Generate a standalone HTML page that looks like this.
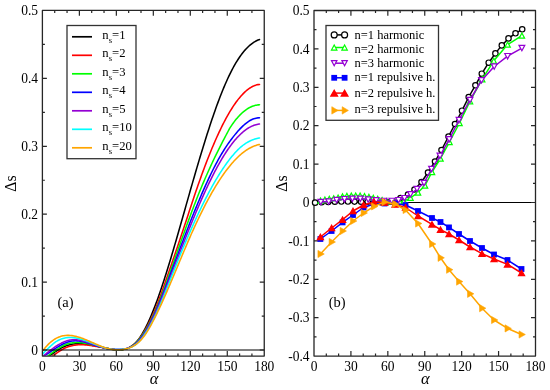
<!DOCTYPE html>
<html><head><meta charset="utf-8"><style>html,body{margin:0;padding:0;background:#fff;}svg{display:block;}</style></head>
<body>
<svg width="550" height="390" viewBox="0 0 550 390">
<rect width="550" height="390" fill="#fff"/>
<defs><clipPath id="cl"><rect x="42.4" y="10.45" width="221.85" height="345.35"/></clipPath><clipPath id="cr"><rect x="314" y="10.5" width="221.5" height="345.6"/></clipPath></defs>
<g clip-path="url(#cl)" fill="none" stroke-width="1.55" stroke-linejoin="round" stroke-linecap="round">
<path d="M43 360.26 44 359.62 45 358.97 46 358.3 47 357.62 48 356.92 49 356.21 50 355.5 51 354.79 52 354.08 53 353.37 54 352.67 55 351.97 56 351.29 57 350.63 58 349.98 59 349.36 60 348.76 61 348.19 62 347.65 63 347.14 64 346.68 65 346.25 66 345.85 67 345.5 68 345.18 69 344.89 70 344.64 71 344.42 72 344.23 73 344.08 74 343.95 75 343.84 76 343.77 77 343.72 78 343.69 79 343.69 80 343.7 81 343.74 82 343.8 83 343.88 84 343.97 85 344.08 86 344.2 87 344.34 88 344.49 89 344.65 90 344.82 91 345 92 345.19 93 345.38 94 345.58 95 345.79 96 346 97 346.21 98 346.43 99 346.64 100 346.86 101 347.08 102 347.3 103 347.51 104 347.73 105 347.93 106 348.14 107 348.34 108 348.53 109 348.71 110 348.89 111 349.06 112 349.21 113 349.35 114 349.48 115 349.59 116 349.67 117 349.74 118 349.78 119 349.79 120 349.77 121 349.71 122 349.63 123 349.5 124 349.34 125 349.14 126 348.88 127 348.58 128 348.21 129 347.78 130 347.28 131 346.71 132 346.05 133 345.3 134 344.46 135 343.52 136 342.47 137 341.33 138 340.09 139 338.75 140 337.32 141 335.8 142 334.19 143 332.49 144 330.71 145 328.84 146 326.89 147 324.86 148 322.76 149 320.58 150 318.32 151 316 152 313.6 153 311.14 154 308.62 155 306.03 156 303.37 157 300.67 158 297.9 159 295.08 160 292.2 161 289.28 162 286.31 163 283.29 164 280.22 165 277.11 166 273.97 167 270.78 168 267.56 169 264.3 170 261.01 171 257.69 172 254.34 173 250.97 174 247.57 175 244.15 176 240.71 177 237.25 178 233.78 179 230.29 180 226.79 181 223.28 182 219.76 183 216.24 184 212.71 185 209.18 186 205.65 187 202.12 188 198.6 189 195.09 190 191.58 191 188.08 192 184.6 193 181.12 194 177.67 195 174.22 196 170.8 197 167.39 198 164 199 160.63 200 157.29 201 153.97 202 150.67 203 147.4 204 144.15 205 140.94 206 137.76 207 134.6 208 131.48 209 128.4 210 125.35 211 122.33 212 119.36 213 116.42 214 113.52 215 110.67 216 107.86 217 105.1 218 102.38 219 99.7 220 97.08 221 94.51 222 91.99 223 89.52 224 87.1 225 84.74 226 82.44 227 80.19 228 78.01 229 75.88 230 73.82 231 71.82 232 69.88 233 68 234 66.18 235 64.42 236 62.73 237 61.09 238 59.51 239 57.99 240 56.54 241 55.14 242 53.79 243 52.51 244 51.29 245 50.12 246 49.01 247 47.96 248 46.96 249 46.02 250 45.14 251 44.32 252 43.54 253 42.83 254 42.17 255 41.57 256 41.02 257 40.52 258 40.08 259 39.69 259.5 39.52" stroke="#000000"/>
<path d="M43 362.09 44 361.57 45 361.02 46 360.43 47 359.82 48 359.17 49 358.51 50 357.83 51 357.13 52 356.42 53 355.71 54 354.99 55 354.28 56 353.57 57 352.86 58 352.18 59 351.51 60 350.86 61 350.23 62 349.64 63 349.07 64 348.55 65 348.06 66 347.61 67 347.2 68 346.83 69 346.49 70 346.18 71 345.91 72 345.67 73 345.45 74 345.27 75 345.12 76 344.99 77 344.89 78 344.81 79 344.76 80 344.73 81 344.72 82 344.73 83 344.76 84 344.81 85 344.88 86 344.96 87 345.05 88 345.16 89 345.28 90 345.41 91 345.55 92 345.7 93 345.86 94 346.02 95 346.19 96 346.37 97 346.55 98 346.74 99 346.93 100 347.12 101 347.31 102 347.5 103 347.69 104 347.89 105 348.08 106 348.26 107 348.45 108 348.62 109 348.8 110 348.97 111 349.13 112 349.28 113 349.41 114 349.53 115 349.64 116 349.72 117 349.78 118 349.81 119 349.81 120 349.77 121 349.7 122 349.6 123 349.45 124 349.25 125 349.01 126 348.71 127 348.37 128 347.96 129 347.5 130 346.98 131 346.39 132 345.73 133 345 134 344.2 135 343.32 136 342.36 137 341.32 138 340.21 139 339.01 140 337.74 141 336.39 142 334.96 143 333.46 144 331.89 145 330.23 146 328.51 147 326.7 148 324.83 149 322.88 150 320.86 151 318.77 152 316.61 153 314.37 154 312.07 155 309.69 156 307.25 157 304.74 158 302.17 159 299.55 160 296.88 161 294.16 162 291.4 163 288.61 164 285.79 165 282.95 166 280.08 167 277.21 168 274.32 169 271.42 170 268.53 171 265.63 172 262.73 173 259.83 174 256.93 175 254.01 176 251.09 177 248.17 178 245.23 179 242.28 180 239.32 181 236.34 182 233.35 183 230.34 184 227.32 185 224.28 186 221.24 187 218.19 188 215.14 189 212.1 190 209.06 191 206.02 192 203 193 200 194 197.01 195 194.05 196 191.12 197 188.21 198 185.33 199 182.48 200 179.66 201 176.87 202 174.11 203 171.39 204 168.69 205 166.03 206 163.4 207 160.8 208 158.24 209 155.71 210 153.22 211 150.76 212 148.33 213 145.95 214 143.6 215 141.29 216 139.02 217 136.78 218 134.59 219 132.43 220 130.31 221 128.24 222 126.2 223 124.21 224 122.26 225 120.35 226 118.49 227 116.66 228 114.89 229 113.15 230 111.47 231 109.82 232 108.23 233 106.68 234 105.18 235 103.72 236 102.32 237 100.96 238 99.65 239 98.39 240 97.19 241 96.03 242 94.92 243 93.87 244 92.87 245 91.92 246 91.02 247 90.18 248 89.39 249 88.66 250 87.98 251 87.36 252 86.8 253 86.29 254 85.84 255 85.45 256 85.11 257 84.84 258 84.62 259 84.47 259.5 84.41" stroke="#ff0000"/>
<path d="M43 359.23 44 358.6 45 357.95 46 357.27 47 356.58 48 355.87 49 355.14 50 354.41 51 353.68 52 352.94 53 352.2 54 351.47 55 350.75 56 350.05 57 349.36 58 348.68 59 348.04 60 347.41 61 346.82 62 346.27 63 345.75 64 345.27 65 344.83 66 344.44 67 344.09 68 343.77 69 343.5 70 343.26 71 343.06 72 342.89 73 342.75 74 342.65 75 342.57 76 342.53 77 342.51 78 342.52 79 342.55 80 342.61 81 342.68 82 342.78 83 342.9 84 343.04 85 343.19 86 343.36 87 343.55 88 343.74 89 343.95 90 344.17 91 344.4 92 344.63 93 344.87 94 345.12 95 345.37 96 345.62 97 345.88 98 346.14 99 346.4 100 346.66 101 346.92 102 347.17 103 347.42 104 347.67 105 347.91 106 348.15 107 348.37 108 348.59 109 348.8 110 348.99 111 349.18 112 349.34 113 349.5 114 349.63 115 349.74 116 349.83 117 349.89 118 349.92 119 349.92 120 349.88 121 349.81 122 349.7 123 349.55 124 349.35 125 349.11 126 348.82 127 348.47 128 348.08 129 347.62 130 347.11 131 346.54 132 345.9 133 345.2 134 344.43 135 343.59 136 342.67 137 341.69 138 340.62 139 339.49 140 338.28 141 336.99 142 335.64 143 334.22 144 332.72 145 331.16 146 329.52 147 327.82 148 326.05 149 324.21 150 322.3 151 320.33 152 318.29 153 316.19 154 314.02 155 311.78 156 309.49 157 307.12 158 304.7 159 302.23 160 299.7 161 297.13 162 294.51 163 291.85 164 289.16 165 286.44 166 283.69 167 280.91 168 278.12 169 275.31 170 272.49 171 269.66 172 266.83 173 263.99 174 261.16 175 258.32 176 255.48 177 252.64 178 249.8 179 246.97 180 244.14 181 241.32 182 238.51 183 235.71 184 232.91 185 230.13 186 227.36 187 224.6 188 221.86 189 219.14 190 216.43 191 213.74 192 211.07 193 208.43 194 205.81 195 203.21 196 200.63 197 198.09 198 195.57 199 193.08 200 190.62 201 188.19 202 185.79 203 183.42 204 181.08 205 178.77 206 176.48 207 174.21 208 171.98 209 169.76 210 167.57 211 165.41 212 163.26 213 161.14 214 159.04 215 156.96 216 154.9 217 152.86 218 150.84 219 148.84 220 146.85 221 144.88 222 142.92 223 140.98 224 139.06 225 137.15 226 135.25 227 133.37 228 131.49 229 129.63 229.3 129.07 229.3 128.89 230.3 127.34 231.3 125.83 232.3 124.38 233.3 122.98 234.3 121.64 235.3 120.34 236.3 119.1 237.3 117.91 238.3 116.78 239.3 115.69 240.3 114.66 241.3 113.68 242.3 112.75 243.3 111.87 244.3 111.05 245.3 110.28 246.3 109.55 247.3 108.88 248.3 108.27 249.3 107.7 250.3 107.18 251.3 106.72 252.3 106.3 253.3 105.94 254.3 105.63 255.3 105.36 256.3 105.15 257.3 104.99 258.3 104.88 259.3 104.82 259.5 104.82" stroke="#00ff00"/>
<path d="M43 356.73 44 356.1 45 355.45 46 354.79 47 354.12 48 353.44 49 352.77 50 352.08 51 351.4 52 350.72 53 350.05 54 349.38 55 348.72 56 348.07 57 347.44 58 346.82 59 346.22 60 345.64 61 345.08 62 344.55 63 344.04 64 343.57 65 343.12 66 342.71 67 342.33 68 342 69 341.7 70 341.44 71 341.23 72 341.07 73 340.95 74 340.88 75 340.84 76 340.85 77 340.89 78 340.96 79 341.07 80 341.21 81 341.37 82 341.56 83 341.78 84 342.01 85 342.26 86 342.53 87 342.82 88 343.11 89 343.42 90 343.73 91 344.05 92 344.37 93 344.7 94 345.02 95 345.33 96 345.65 97 345.95 98 346.25 99 346.53 100 346.81 101 347.08 102 347.34 103 347.58 104 347.82 105 348.04 106 348.25 107 348.45 108 348.63 109 348.8 110 348.96 111 349.1 112 349.22 113 349.33 114 349.43 115 349.5 116 349.56 117 349.6 118 349.62 119 349.62 120 349.59 121 349.53 122 349.44 123 349.32 124 349.15 125 348.95 126 348.71 127 348.41 128 348.07 129 347.68 130 347.23 131 346.72 132 346.15 133 345.52 134 344.82 135 344.05 136 343.21 137 342.29 138 341.3 139 340.23 140 339.08 141 337.86 142 336.56 143 335.18 144 333.72 145 332.18 146 330.57 147 328.89 148 327.13 149 325.3 150 323.41 151 321.45 152 319.43 153 317.35 154 315.21 155 313.01 156 310.76 157 308.46 158 306.11 159 303.71 160 301.27 161 298.8 162 296.28 163 293.74 164 291.16 165 288.57 166 285.95 167 283.31 168 280.65 169 277.99 170 275.31 171 272.63 172 269.95 173 267.27 174 264.59 175 261.92 176 259.24 177 256.57 178 253.91 179 251.25 180 248.6 181 245.95 182 243.31 183 240.68 184 238.06 185 235.45 186 232.85 187 230.26 188 227.69 189 225.13 190 222.58 191 220.05 192 217.54 193 215.04 194 212.56 195 210.09 196 207.65 197 205.22 198 202.82 199 200.44 200 198.08 201 195.74 202 193.42 203 191.13 204 188.87 205 186.63 206 184.41 207 182.23 208 180.07 209 177.94 210 175.84 211 173.77 212 171.73 213 169.73 214 167.75 215 165.82 216 163.91 217 162.04 218 160.2 219 158.41 220 156.65 221 154.92 222 153.24 223 151.59 224 149.99 225 148.42 226 146.88 227 145.39 228 143.93 229 142.5 230 141.11 231 139.75 232 138.42 233 137.12 234 135.86 235 134.62 236 133.42 237 132.24 238 131.09 239 129.98 240 128.89 241 127.85 242 126.85 243 125.89 244 124.97 245 124.1 246 123.28 247 122.52 248 121.8 249 121.14 250 120.53 251 119.98 252 119.49 253 119.06 254 118.69 255 118.38 256 118.14 257 117.97 258 117.87 259 117.84 259.5 117.85" stroke="#0000ff"/>
<path d="M43 356.22 44 355.38 45 354.55 46 353.73 47 352.91 48 352.11 49 351.32 50 350.54 51 349.78 52 349.04 53 348.31 54 347.6 55 346.91 56 346.25 57 345.61 58 344.99 59 344.4 60 343.84 61 343.31 62 342.8 63 342.33 64 341.9 65 341.5 66 341.13 67 340.81 68 340.52 69 340.28 70 340.07 71 339.92 72 339.8 73 339.73 74 339.7 75 339.71 76 339.76 77 339.84 78 339.96 79 340.11 80 340.28 81 340.49 82 340.71 83 340.96 84 341.23 85 341.52 86 341.83 87 342.14 88 342.47 89 342.81 90 343.16 91 343.52 92 343.87 93 344.23 94 344.59 95 344.94 96 345.29 97 345.64 98 345.97 99 346.3 100 346.62 101 346.92 102 347.22 103 347.5 104 347.77 105 348.02 106 348.26 107 348.48 108 348.68 109 348.87 110 349.04 111 349.19 112 349.31 113 349.42 114 349.5 115 349.55 116 349.59 117 349.59 118 349.58 119 349.53 120 349.46 121 349.37 122 349.26 123 349.12 124 348.96 125 348.77 126 348.56 127 348.32 128 348.04 129 347.71 130 347.34 131 346.92 132 346.43 133 345.88 134 345.26 135 344.57 136 343.79 137 342.93 138 341.98 139 340.94 140 339.82 141 338.61 142 337.33 143 335.96 144 334.52 145 333 146 331.4 147 329.73 148 328 149 326.19 150 324.33 151 322.4 152 320.41 153 318.37 154 316.28 155 314.14 156 311.94 157 309.71 158 307.43 159 305.11 160 302.76 161 300.37 162 297.95 163 295.51 164 293.03 165 290.54 166 288.02 167 285.49 168 282.94 169 280.38 170 277.81 171 275.23 172 272.65 173 270.07 174 267.49 175 264.9 176 262.33 177 259.75 178 257.18 179 254.61 180 252.04 181 249.49 182 246.93 183 244.39 184 241.85 185 239.32 186 236.81 187 234.3 188 231.8 189 229.31 190 226.84 191 224.38 192 221.93 193 219.5 194 217.08 195 214.68 196 212.3 197 209.93 198 207.58 199 205.25 200 202.94 201 200.65 202 198.39 203 196.14 204 193.92 205 191.72 206 189.54 207 187.39 208 185.27 209 183.17 210 181.1 211 179.06 212 177.04 213 175.06 214 173.1 215 171.18 216 169.29 217 167.43 218 165.6 219 163.81 220 162.05 221 160.33 222 158.65 223 156.99 224 155.38 225 153.8 226 152.26 227 150.75 228 149.28 229 147.85 230 146.46 231 145.11 232 143.79 233 142.51 234 141.28 235 140.08 236 138.92 237 137.8 238 136.73 239 135.69 240 134.7 241 133.74 242 132.83 243 131.96 244 131.14 245 130.35 246 129.61 247 128.91 248 128.26 249 127.65 250 127.09 251 126.57 252 126.1 253 125.67 254 125.28 255 124.95 256 124.66 257 124.41 258 124.22 259 124.07 259.5 124.01" stroke="#9400d3"/>
<path d="M43 353.59 44 352.58 45 351.56 46 350.55 47 349.54 48 348.55 49 347.58 50 346.63 51 345.71 52 344.82 53 343.97 54 343.17 55 342.42 56 341.72 57 341.08 58 340.51 59 339.99 60 339.53 61 339.13 62 338.77 63 338.46 64 338.2 65 337.99 66 337.81 67 337.67 68 337.58 69 337.52 70 337.5 71 337.51 72 337.56 73 337.63 74 337.74 75 337.88 76 338.04 77 338.23 78 338.44 79 338.68 80 338.94 81 339.22 82 339.51 83 339.82 84 340.15 85 340.49 86 340.85 87 341.21 88 341.58 89 341.97 90 342.35 91 342.75 92 343.14 93 343.54 94 343.94 95 344.34 96 344.73 97 345.12 98 345.5 99 345.88 100 346.24 101 346.6 102 346.94 103 347.27 104 347.58 105 347.87 106 348.15 107 348.4 108 348.63 109 348.84 110 349.02 111 349.18 112 349.31 113 349.41 114 349.49 115 349.55 116 349.58 117 349.58 118 349.57 119 349.53 120 349.46 121 349.38 122 349.28 123 349.16 124 349.01 125 348.85 126 348.66 127 348.44 128 348.19 129 347.9 130 347.56 131 347.17 132 346.73 133 346.22 134 345.65 135 345 136 344.28 137 343.48 138 342.58 139 341.6 140 340.54 141 339.39 142 338.16 143 336.86 144 335.48 145 334.03 146 332.51 147 330.93 148 329.28 149 327.57 150 325.8 151 323.97 152 322.09 153 320.15 154 318.16 155 316.12 156 314.02 157 311.87 158 309.67 159 307.42 160 305.13 161 302.79 162 300.41 163 298 164 295.56 165 293.09 166 290.6 167 288.09 168 285.57 169 283.04 170 280.5 171 277.95 172 275.41 173 272.88 174 270.36 175 267.85 176 265.35 177 262.86 178 260.39 179 257.93 180 255.49 181 253.06 182 250.65 183 248.25 184 245.87 185 243.5 186 241.15 187 238.81 188 236.49 189 234.19 190 231.9 191 229.64 192 227.39 193 225.15 194 222.94 195 220.75 196 218.57 197 216.42 198 214.28 199 212.17 200 210.07 201 208 202 205.95 203 203.92 204 201.91 205 199.93 206 197.97 207 196.03 208 194.12 209 192.23 210 190.36 211 188.53 212 186.71 213 184.92 214 183.16 215 181.43 216 179.72 217 178.04 218 176.39 219 174.76 220 173.16 221 171.6 222 170.06 223 168.55 224 167.06 225 165.61 226 164.19 227 162.8 228 161.44 229 160.12 230 158.82 231 157.56 232 156.33 233 155.13 234 153.96 235 152.83 236 151.74 237 150.68 238 149.66 239 148.69 240 147.76 241 146.88 242 146.04 243 145.25 244 144.51 245 143.81 246 143.16 247 142.55 248 141.98 249 141.45 250 140.96 251 140.51 252 140.09 253 139.71 254 139.36 255 139.05 256 138.77 257 138.52 258 138.29 259 138.1 259.5 138.01" stroke="#00ffff"/>
<path d="M43 350.64 44 349.3 45 348.03 46 346.84 47 345.71 48 344.65 49 343.66 50 342.73 51 341.86 52 341.06 53 340.31 54 339.63 55 339 56 338.42 57 337.91 58 337.44 59 337.02 60 336.66 61 336.34 62 336.07 63 335.85 64 335.67 65 335.53 66 335.43 67 335.37 68 335.35 69 335.37 70 335.42 71 335.51 72 335.62 73 335.77 74 335.95 75 336.15 76 336.38 77 336.63 78 336.91 79 337.21 80 337.53 81 337.86 82 338.22 83 338.59 84 338.97 85 339.37 86 339.78 87 340.2 88 340.62 89 341.06 90 341.49 91 341.94 92 342.38 93 342.83 94 343.27 95 343.71 96 344.15 97 344.58 98 345.01 99 345.43 100 345.83 101 346.23 102 346.61 103 346.98 104 347.33 105 347.66 106 347.98 107 348.27 108 348.54 109 348.79 110 349.02 111 349.21 112 349.38 113 349.52 114 349.64 115 349.73 116 349.79 117 349.82 118 349.83 119 349.8 120 349.75 121 349.68 122 349.57 123 349.44 124 349.28 125 349.09 126 348.88 127 348.62 128 348.33 129 348 130 347.63 131 347.22 132 346.75 133 346.23 134 345.66 135 345.03 136 344.34 137 343.59 138 342.77 139 341.88 140 340.92 141 339.88 142 338.77 143 337.57 144 336.29 145 334.92 146 333.46 147 331.92 148 330.29 149 328.59 150 326.82 151 325.01 152 323.15 153 321.25 154 319.31 155 317.34 156 315.33 157 313.29 158 311.21 159 309.11 160 306.97 161 304.81 162 302.63 163 300.41 164 298.18 165 295.92 166 293.65 167 291.35 168 289.04 169 286.72 170 284.38 171 282.03 172 279.66 173 277.29 174 274.91 175 272.53 176 270.14 177 267.75 178 265.35 179 262.96 180 260.57 181 258.18 182 255.79 183 253.42 184 251.05 185 248.69 186 246.34 187 244 188 241.68 189 239.37 190 237.08 191 234.8 192 232.55 193 230.32 194 228.11 195 225.93 196 223.76 197 221.63 198 219.51 199 217.42 200 215.35 201 213.31 202 211.29 203 209.29 204 207.32 205 205.38 206 203.46 207 201.56 208 199.7 209 197.85 210 196.04 211 194.25 212 192.49 213 190.76 214 189.05 215 187.37 216 185.72 217 184.1 218 182.5 219 180.94 220 179.4 221 177.89 222 176.41 223 174.96 224 173.55 225 172.16 226 170.8 227 169.47 228 168.17 229 166.91 230 165.67 231 164.47 232 163.3 233 162.16 234 161.05 235 159.98 236 158.94 237 157.93 238 156.96 239 156.02 240 155.11 241 154.24 242 153.4 243 152.59 244 151.82 245 151.09 246 150.39 247 149.73 248 149.1 249 148.51 250 147.95 251 147.44 252 146.95 253 146.51 254 146.1 255 145.73 256 145.4 257 145.11 258 144.85 259 144.63 259.5 144.54" stroke="#ffa500"/>
</g>
<path d="M42.4 350.0H264.25M314.0 202.5H535.5" stroke="#000" stroke-width="1.1"/>
<rect x="42.4" y="10.45" width="221.85" height="345.65" fill="none" stroke="#262626" stroke-width="1.3" stroke-linejoin="round"/>
<path d="M54.72 356.1v-2.5M54.72 10.45v2.5M67.05 356.1v-2.5M67.05 10.45v2.5M79.38 356.1v-5.2M79.38 10.45v5.2M91.7 356.1v-2.5M91.7 10.45v2.5M104.03 356.1v-2.5M104.03 10.45v2.5M116.35 356.1v-5.2M116.35 10.45v5.2M128.67 356.1v-2.5M128.67 10.45v2.5M141 356.1v-2.5M141 10.45v2.5M153.32 356.1v-5.2M153.32 10.45v5.2M165.65 356.1v-2.5M165.65 10.45v2.5M177.97 356.1v-2.5M177.97 10.45v2.5M190.3 356.1v-5.2M190.3 10.45v5.2M202.62 356.1v-2.5M202.62 10.45v2.5M214.95 356.1v-2.5M214.95 10.45v2.5M227.28 356.1v-5.2M227.28 10.45v5.2M239.6 356.1v-2.5M239.6 10.45v2.5M251.92 356.1v-2.5M251.92 10.45v2.5M42.4 350h4.5M264.25 350h-4.5M42.4 282.1h4.5M264.25 282.1h-4.5M42.4 214.2h4.5M264.25 214.2h-4.5M42.4 146.3h4.5M264.25 146.3h-4.5M42.4 78.4h4.5M264.25 78.4h-4.5M42.4 316.05h2.5M264.25 316.05h-2.5M42.4 248.15h2.5M264.25 248.15h-2.5M42.4 180.25h2.5M264.25 180.25h-2.5M42.4 112.35h2.5M264.25 112.35h-2.5M42.4 44.45h2.5M264.25 44.45h-2.5" stroke="#262626" stroke-width="1.2" fill="none"/>
<rect x="314" y="10.5" width="221.5" height="345.6" fill="none" stroke="#262626" stroke-width="1.3" stroke-linejoin="round"/>
<path d="M326.31 356.1v-2.5M326.31 10.5v2.5M338.61 356.1v-2.5M338.61 10.5v2.5M350.92 356.1v-5.2M350.92 10.5v5.2M363.22 356.1v-2.5M363.22 10.5v2.5M375.52 356.1v-2.5M375.52 10.5v2.5M387.83 356.1v-5.2M387.83 10.5v5.2M400.13 356.1v-2.5M400.13 10.5v2.5M412.44 356.1v-2.5M412.44 10.5v2.5M424.75 356.1v-5.2M424.75 10.5v5.2M437.05 356.1v-2.5M437.05 10.5v2.5M449.36 356.1v-2.5M449.36 10.5v2.5M461.66 356.1v-5.2M461.66 10.5v5.2M473.97 356.1v-2.5M473.97 10.5v2.5M486.27 356.1v-2.5M486.27 10.5v2.5M498.57 356.1v-5.2M498.57 10.5v5.2M510.88 356.1v-2.5M510.88 10.5v2.5M523.18 356.1v-2.5M523.18 10.5v2.5M314 317.7h4.5M535.5 317.7h-4.5M314 279.3h4.5M535.5 279.3h-4.5M314 240.9h4.5M535.5 240.9h-4.5M314 202.5h4.5M535.5 202.5h-4.5M314 164.1h4.5M535.5 164.1h-4.5M314 125.7h4.5M535.5 125.7h-4.5M314 87.3h4.5M535.5 87.3h-4.5M314 48.9h4.5M535.5 48.9h-4.5M314 336.9h2.5M535.5 336.9h-2.5M314 298.5h2.5M535.5 298.5h-2.5M314 260.1h2.5M535.5 260.1h-2.5M314 221.7h2.5M535.5 221.7h-2.5M314 183.3h2.5M535.5 183.3h-2.5M314 144.9h2.5M535.5 144.9h-2.5M314 106.5h2.5M535.5 106.5h-2.5M314 68.1h2.5M535.5 68.1h-2.5M314 29.7h2.5M535.5 29.7h-2.5" stroke="#262626" stroke-width="1.2" fill="none"/>
<g font-family="'Liberation Serif', 'Times New Roman', serif" fill="#000">
<text transform="translate(38 354.6) scale(0.9 1)" font-size="15.0" text-anchor="end" >0</text>
<text transform="translate(38 286.7) scale(0.9 1)" font-size="15.0" text-anchor="end" >0.1</text>
<text transform="translate(38 218.8) scale(0.9 1)" font-size="15.0" text-anchor="end" >0.2</text>
<text transform="translate(38 150.9) scale(0.9 1)" font-size="15.0" text-anchor="end" >0.3</text>
<text transform="translate(38 83) scale(0.9 1)" font-size="15.0" text-anchor="end" >0.4</text>
<text transform="translate(38 15.1) scale(0.9 1)" font-size="15.0" text-anchor="end" >0.5</text>
<text transform="translate(309.5 360.7) scale(0.9 1)" font-size="15.0" text-anchor="end" >-0.4</text>
<text transform="translate(309.5 322.3) scale(0.9 1)" font-size="15.0" text-anchor="end" >-0.3</text>
<text transform="translate(309.5 283.9) scale(0.9 1)" font-size="15.0" text-anchor="end" >-0.2</text>
<text transform="translate(309.5 245.5) scale(0.9 1)" font-size="15.0" text-anchor="end" >-0.1</text>
<text transform="translate(309.5 207.1) scale(0.9 1)" font-size="15.0" text-anchor="end" >0</text>
<text transform="translate(309.5 168.7) scale(0.9 1)" font-size="15.0" text-anchor="end" >0.1</text>
<text transform="translate(309.5 130.3) scale(0.9 1)" font-size="15.0" text-anchor="end" >0.2</text>
<text transform="translate(309.5 91.9) scale(0.9 1)" font-size="15.0" text-anchor="end" >0.3</text>
<text transform="translate(309.5 53.5) scale(0.9 1)" font-size="15.0" text-anchor="end" >0.4</text>
<text transform="translate(309.5 15.1) scale(0.9 1)" font-size="15.0" text-anchor="end" >0.5</text>
<text transform="translate(42.4 370.8) scale(0.9 1)" font-size="15.0" text-anchor="middle" >0</text>
<text transform="translate(314 370.8) scale(0.9 1)" font-size="15.0" text-anchor="middle" >0</text>
<text transform="translate(79.38 370.8) scale(0.9 1)" font-size="15.0" text-anchor="middle" >30</text>
<text transform="translate(350.92 370.8) scale(0.9 1)" font-size="15.0" text-anchor="middle" >30</text>
<text transform="translate(116.35 370.8) scale(0.9 1)" font-size="15.0" text-anchor="middle" >60</text>
<text transform="translate(387.83 370.8) scale(0.9 1)" font-size="15.0" text-anchor="middle" >60</text>
<text transform="translate(153.32 370.8) scale(0.9 1)" font-size="15.0" text-anchor="middle" >90</text>
<text transform="translate(424.75 370.8) scale(0.9 1)" font-size="15.0" text-anchor="middle" >90</text>
<text transform="translate(190.3 370.8) scale(0.9 1)" font-size="15.0" text-anchor="middle" >120</text>
<text transform="translate(461.66 370.8) scale(0.9 1)" font-size="15.0" text-anchor="middle" >120</text>
<text transform="translate(227.28 370.8) scale(0.9 1)" font-size="15.0" text-anchor="middle" >150</text>
<text transform="translate(498.57 370.8) scale(0.9 1)" font-size="15.0" text-anchor="middle" >150</text>
<text transform="translate(264.25 370.8) scale(0.9 1)" font-size="15.0" text-anchor="middle" >180</text>
<text transform="translate(535.49 370.8) scale(0.9 1)" font-size="15.0" text-anchor="middle" >180</text>
<text x="154" y="383.6" font-size="16.5" text-anchor="middle" font-style="italic">α</text>
<text x="425.4" y="383.6" font-size="16.5" text-anchor="middle" font-style="italic">α</text>
<text transform="translate(16.2,183.5) rotate(-90)" font-size="15.8" text-anchor="middle">Δs</text>
<text transform="translate(287.2,183.5) rotate(-90)" font-size="15.8" text-anchor="middle">Δs</text>
<text x="65.5" y="306.9" font-size="14.5" text-anchor="middle" >(a)</text>
<text x="337.2" y="306.9" font-size="14.5" text-anchor="middle" >(b)</text>
</g>
<rect x="67" y="25.5" width="69" height="133.2" fill="#fff" stroke="#333" stroke-width="1.3"/>
<path d="M72 36.8H92" stroke="#000000" stroke-width="1.7"/>
<text transform="translate(102.3 38.7) scale(0.96 1)" font-family="'Liberation Serif', 'Times New Roman', serif" font-size="13.2">n<tspan font-size="9" dy="4.2">s</tspan><tspan dy="-4.2">=1</tspan></text>
<path d="M72 55.3H92" stroke="#ff0000" stroke-width="1.7"/>
<text transform="translate(102.3 57.2) scale(0.96 1)" font-family="'Liberation Serif', 'Times New Roman', serif" font-size="13.2">n<tspan font-size="9" dy="4.2">s</tspan><tspan dy="-4.2">=2</tspan></text>
<path d="M72 73.8H92" stroke="#00ff00" stroke-width="1.7"/>
<text transform="translate(102.3 75.7) scale(0.96 1)" font-family="'Liberation Serif', 'Times New Roman', serif" font-size="13.2">n<tspan font-size="9" dy="4.2">s</tspan><tspan dy="-4.2">=3</tspan></text>
<path d="M72 92.3H92" stroke="#0000ff" stroke-width="1.7"/>
<text transform="translate(102.3 94.2) scale(0.96 1)" font-family="'Liberation Serif', 'Times New Roman', serif" font-size="13.2">n<tspan font-size="9" dy="4.2">s</tspan><tspan dy="-4.2">=4</tspan></text>
<path d="M72 110.8H92" stroke="#9400d3" stroke-width="1.7"/>
<text transform="translate(102.3 112.7) scale(0.96 1)" font-family="'Liberation Serif', 'Times New Roman', serif" font-size="13.2">n<tspan font-size="9" dy="4.2">s</tspan><tspan dy="-4.2">=5</tspan></text>
<path d="M72 129.3H92" stroke="#00ffff" stroke-width="1.7"/>
<text transform="translate(102.3 131.2) scale(0.96 1)" font-family="'Liberation Serif', 'Times New Roman', serif" font-size="13.2">n<tspan font-size="9" dy="4.2">s</tspan><tspan dy="-4.2">=10</tspan></text>
<path d="M72 147.8H92" stroke="#ffa500" stroke-width="1.7"/>
<text transform="translate(102.3 149.7) scale(0.96 1)" font-family="'Liberation Serif', 'Times New Roman', serif" font-size="13.2">n<tspan font-size="9" dy="4.2">s</tspan><tspan dy="-4.2">=20</tspan></text>
<g>
<path d="M315.1 202.63 321.67 202.31 328.24 202.04 334.81 201.77 341.38 201.57 347.95 201.54 354.52 201.58 361.08 201.63 367.65 201.71 374.22 201.86 380.79 202.14 387.36 202.31 393.93 202.29 400.5 198 408 194.5 414.5 189.5 421.5 182 428 172.5 435 161.5 441.5 150 448.5 136.5 455 124 462 110.7 468.7 97 475.4 85.3 481.8 73.7 488.7 62.7 495.4 53.4 501.8 45.4 508.5 38.4 515.5 33.3 522.2 29.3" fill="none" stroke="#000000" stroke-width="1.5" stroke-linejoin="round"/>
<circle cx="315.1" cy="202.63" r="2.7" fill="#fff" stroke="#000" stroke-width="1.2"/>
<circle cx="321.67" cy="202.31" r="2.7" fill="#fff" stroke="#000" stroke-width="1.2"/>
<circle cx="328.24" cy="202.04" r="2.7" fill="#fff" stroke="#000" stroke-width="1.2"/>
<circle cx="334.81" cy="201.77" r="2.7" fill="#fff" stroke="#000" stroke-width="1.2"/>
<circle cx="341.38" cy="201.57" r="2.7" fill="#fff" stroke="#000" stroke-width="1.2"/>
<circle cx="347.95" cy="201.54" r="2.7" fill="#fff" stroke="#000" stroke-width="1.2"/>
<circle cx="354.52" cy="201.58" r="2.7" fill="#fff" stroke="#000" stroke-width="1.2"/>
<circle cx="361.08" cy="201.63" r="2.7" fill="#fff" stroke="#000" stroke-width="1.2"/>
<circle cx="367.65" cy="201.71" r="2.7" fill="#fff" stroke="#000" stroke-width="1.2"/>
<circle cx="374.22" cy="201.86" r="2.7" fill="#fff" stroke="#000" stroke-width="1.2"/>
<circle cx="380.79" cy="202.14" r="2.7" fill="#fff" stroke="#000" stroke-width="1.2"/>
<circle cx="387.36" cy="202.31" r="2.7" fill="#fff" stroke="#000" stroke-width="1.2"/>
<circle cx="393.93" cy="202.29" r="2.7" fill="#fff" stroke="#000" stroke-width="1.2"/>
<circle cx="400.5" cy="198" r="2.7" fill="#fff" stroke="#000" stroke-width="1.2"/>
<circle cx="408" cy="194.5" r="2.7" fill="#fff" stroke="#000" stroke-width="1.2"/>
<circle cx="414.5" cy="189.5" r="2.7" fill="#fff" stroke="#000" stroke-width="1.2"/>
<circle cx="421.5" cy="182" r="2.7" fill="#fff" stroke="#000" stroke-width="1.2"/>
<circle cx="428" cy="172.5" r="2.7" fill="#fff" stroke="#000" stroke-width="1.2"/>
<circle cx="435" cy="161.5" r="2.7" fill="#fff" stroke="#000" stroke-width="1.2"/>
<circle cx="441.5" cy="150" r="2.7" fill="#fff" stroke="#000" stroke-width="1.2"/>
<circle cx="448.5" cy="136.5" r="2.7" fill="#fff" stroke="#000" stroke-width="1.2"/>
<circle cx="455" cy="124" r="2.7" fill="#fff" stroke="#000" stroke-width="1.2"/>
<circle cx="462" cy="110.7" r="2.7" fill="#fff" stroke="#000" stroke-width="1.2"/>
<circle cx="468.7" cy="97" r="2.7" fill="#fff" stroke="#000" stroke-width="1.2"/>
<circle cx="475.4" cy="85.3" r="2.7" fill="#fff" stroke="#000" stroke-width="1.2"/>
<circle cx="481.8" cy="73.7" r="2.7" fill="#fff" stroke="#000" stroke-width="1.2"/>
<circle cx="488.7" cy="62.7" r="2.7" fill="#fff" stroke="#000" stroke-width="1.2"/>
<circle cx="495.4" cy="53.4" r="2.7" fill="#fff" stroke="#000" stroke-width="1.2"/>
<circle cx="501.8" cy="45.4" r="2.7" fill="#fff" stroke="#000" stroke-width="1.2"/>
<circle cx="508.5" cy="38.4" r="2.7" fill="#fff" stroke="#000" stroke-width="1.2"/>
<circle cx="515.5" cy="33.3" r="2.7" fill="#fff" stroke="#000" stroke-width="1.2"/>
<circle cx="522.2" cy="29.3" r="2.7" fill="#fff" stroke="#000" stroke-width="1.2"/>
<path d="M320.5 200.61 324.9 199.58 329.3 198.83 333.7 198.34 338.1 197.56 342.5 196.51 346.9 195.99 351.3 195.62 355.7 195.59 360.1 195.63 364.5 196.2 368.9 196.9 373.3 197.81 377.7 198.92 382.1 200.04 386.5 201.19 390.9 201.76 395.3 201.9 399.7 201.83 404.1 201.16 410.5 197.8 418 192.5 425 185.5 432 172 440.5 158.5 449.5 142 459.5 123 470 101.2 482.2 79.2 493.8 60.8 507.6 44.6 521.9 35.6" fill="none" stroke="#00ff00" stroke-width="1.5" stroke-linejoin="round"/>
<path d="M317.8 203.21L320.5 198.01L323.2 203.21Z" fill="#fff" stroke="#00ff00" stroke-width="1.2" stroke-linejoin="miter"/>
<path d="M322.2 202.18L324.9 196.98L327.6 202.18Z" fill="#fff" stroke="#00ff00" stroke-width="1.2" stroke-linejoin="miter"/>
<path d="M326.6 201.43L329.3 196.23L332 201.43Z" fill="#fff" stroke="#00ff00" stroke-width="1.2" stroke-linejoin="miter"/>
<path d="M331 200.94L333.7 195.74L336.4 200.94Z" fill="#fff" stroke="#00ff00" stroke-width="1.2" stroke-linejoin="miter"/>
<path d="M335.4 200.16L338.1 194.96L340.8 200.16Z" fill="#fff" stroke="#00ff00" stroke-width="1.2" stroke-linejoin="miter"/>
<path d="M339.8 199.11L342.5 193.91L345.2 199.11Z" fill="#fff" stroke="#00ff00" stroke-width="1.2" stroke-linejoin="miter"/>
<path d="M344.2 198.59L346.9 193.39L349.6 198.59Z" fill="#fff" stroke="#00ff00" stroke-width="1.2" stroke-linejoin="miter"/>
<path d="M348.6 198.22L351.3 193.02L354 198.22Z" fill="#fff" stroke="#00ff00" stroke-width="1.2" stroke-linejoin="miter"/>
<path d="M353 198.19L355.7 192.99L358.4 198.19Z" fill="#fff" stroke="#00ff00" stroke-width="1.2" stroke-linejoin="miter"/>
<path d="M357.4 198.23L360.1 193.03L362.8 198.23Z" fill="#fff" stroke="#00ff00" stroke-width="1.2" stroke-linejoin="miter"/>
<path d="M361.8 198.8L364.5 193.6L367.2 198.8Z" fill="#fff" stroke="#00ff00" stroke-width="1.2" stroke-linejoin="miter"/>
<path d="M366.2 199.5L368.9 194.3L371.6 199.5Z" fill="#fff" stroke="#00ff00" stroke-width="1.2" stroke-linejoin="miter"/>
<path d="M370.6 200.41L373.3 195.21L376 200.41Z" fill="#fff" stroke="#00ff00" stroke-width="1.2" stroke-linejoin="miter"/>
<path d="M375 201.52L377.7 196.32L380.4 201.52Z" fill="#fff" stroke="#00ff00" stroke-width="1.2" stroke-linejoin="miter"/>
<path d="M379.4 202.64L382.1 197.44L384.8 202.64Z" fill="#fff" stroke="#00ff00" stroke-width="1.2" stroke-linejoin="miter"/>
<path d="M383.8 203.79L386.5 198.59L389.2 203.79Z" fill="#fff" stroke="#00ff00" stroke-width="1.2" stroke-linejoin="miter"/>
<path d="M388.2 204.36L390.9 199.16L393.6 204.36Z" fill="#fff" stroke="#00ff00" stroke-width="1.2" stroke-linejoin="miter"/>
<path d="M392.6 204.5L395.3 199.3L398 204.5Z" fill="#fff" stroke="#00ff00" stroke-width="1.2" stroke-linejoin="miter"/>
<path d="M397 204.43L399.7 199.23L402.4 204.43Z" fill="#fff" stroke="#00ff00" stroke-width="1.2" stroke-linejoin="miter"/>
<path d="M401.4 203.76L404.1 198.56L406.8 203.76Z" fill="#fff" stroke="#00ff00" stroke-width="1.2" stroke-linejoin="miter"/>
<path d="M407.8 200.4L410.5 195.2L413.2 200.4Z" fill="#fff" stroke="#00ff00" stroke-width="1.2" stroke-linejoin="miter"/>
<path d="M415.3 195.1L418 189.9L420.7 195.1Z" fill="#fff" stroke="#00ff00" stroke-width="1.2" stroke-linejoin="miter"/>
<path d="M422.3 188.1L425 182.9L427.7 188.1Z" fill="#fff" stroke="#00ff00" stroke-width="1.2" stroke-linejoin="miter"/>
<path d="M429.3 174.6L432 169.4L434.7 174.6Z" fill="#fff" stroke="#00ff00" stroke-width="1.2" stroke-linejoin="miter"/>
<path d="M437.8 161.1L440.5 155.9L443.2 161.1Z" fill="#fff" stroke="#00ff00" stroke-width="1.2" stroke-linejoin="miter"/>
<path d="M446.8 144.6L449.5 139.4L452.2 144.6Z" fill="#fff" stroke="#00ff00" stroke-width="1.2" stroke-linejoin="miter"/>
<path d="M456.8 125.6L459.5 120.4L462.2 125.6Z" fill="#fff" stroke="#00ff00" stroke-width="1.2" stroke-linejoin="miter"/>
<path d="M467.3 103.8L470 98.6L472.7 103.8Z" fill="#fff" stroke="#00ff00" stroke-width="1.2" stroke-linejoin="miter"/>
<path d="M479.5 81.8L482.2 76.6L484.9 81.8Z" fill="#fff" stroke="#00ff00" stroke-width="1.2" stroke-linejoin="miter"/>
<path d="M491.1 63.4L493.8 58.2L496.5 63.4Z" fill="#fff" stroke="#00ff00" stroke-width="1.2" stroke-linejoin="miter"/>
<path d="M504.9 47.2L507.6 42L510.3 47.2Z" fill="#fff" stroke="#00ff00" stroke-width="1.2" stroke-linejoin="miter"/>
<path d="M519.2 38.2L521.9 33L524.6 38.2Z" fill="#fff" stroke="#00ff00" stroke-width="1.2" stroke-linejoin="miter"/>
<path d="M320.8 202 328.7 201.62 336.6 200.03 344.5 199.2 352.4 198.81 360.3 198.81 368.2 199.6 376.1 200.38 384 200.96 391.9 200.96 398.5 200.2 404.5 198.2 410.5 194.3 417 189 424 183 431.5 169 440 155.9 449.2 139.4 459 120 470 100 481.5 80.4 494.2 66.5 507.6 56.2 521.9 48.1" fill="none" stroke="#9400d3" stroke-width="1.5" stroke-linejoin="round"/>
<path d="M317.9 199.3L320.8 204.7L323.7 199.3Z" fill="#fff" stroke="#9400d3" stroke-width="1.2"/>
<path d="M325.8 198.92L328.7 204.32L331.6 198.92Z" fill="#fff" stroke="#9400d3" stroke-width="1.2"/>
<path d="M333.7 197.33L336.6 202.73L339.5 197.33Z" fill="#fff" stroke="#9400d3" stroke-width="1.2"/>
<path d="M341.6 196.5L344.5 201.9L347.4 196.5Z" fill="#fff" stroke="#9400d3" stroke-width="1.2"/>
<path d="M349.5 196.11L352.4 201.51L355.3 196.11Z" fill="#fff" stroke="#9400d3" stroke-width="1.2"/>
<path d="M357.4 196.11L360.3 201.51L363.2 196.11Z" fill="#fff" stroke="#9400d3" stroke-width="1.2"/>
<path d="M365.3 196.9L368.2 202.3L371.1 196.9Z" fill="#fff" stroke="#9400d3" stroke-width="1.2"/>
<path d="M373.2 197.68L376.1 203.08L379 197.68Z" fill="#fff" stroke="#9400d3" stroke-width="1.2"/>
<path d="M381.1 198.26L384 203.66L386.9 198.26Z" fill="#fff" stroke="#9400d3" stroke-width="1.2"/>
<path d="M389 198.26L391.9 203.66L394.8 198.26Z" fill="#fff" stroke="#9400d3" stroke-width="1.2"/>
<path d="M395.6 197.5L398.5 202.9L401.4 197.5Z" fill="#fff" stroke="#9400d3" stroke-width="1.2"/>
<path d="M401.6 195.5L404.5 200.9L407.4 195.5Z" fill="#fff" stroke="#9400d3" stroke-width="1.2"/>
<path d="M407.6 191.6L410.5 197L413.4 191.6Z" fill="#fff" stroke="#9400d3" stroke-width="1.2"/>
<path d="M414.1 186.3L417 191.7L419.9 186.3Z" fill="#fff" stroke="#9400d3" stroke-width="1.2"/>
<path d="M421.1 180.3L424 185.7L426.9 180.3Z" fill="#fff" stroke="#9400d3" stroke-width="1.2"/>
<path d="M428.6 166.3L431.5 171.7L434.4 166.3Z" fill="#fff" stroke="#9400d3" stroke-width="1.2"/>
<path d="M437.1 153.2L440 158.6L442.9 153.2Z" fill="#fff" stroke="#9400d3" stroke-width="1.2"/>
<path d="M446.3 136.7L449.2 142.1L452.1 136.7Z" fill="#fff" stroke="#9400d3" stroke-width="1.2"/>
<path d="M456.1 117.3L459 122.7L461.9 117.3Z" fill="#fff" stroke="#9400d3" stroke-width="1.2"/>
<path d="M467.1 97.3L470 102.7L472.9 97.3Z" fill="#fff" stroke="#9400d3" stroke-width="1.2"/>
<path d="M478.6 77.7L481.5 83.1L484.4 77.7Z" fill="#fff" stroke="#9400d3" stroke-width="1.2"/>
<path d="M491.3 63.8L494.2 69.2L497.1 63.8Z" fill="#fff" stroke="#9400d3" stroke-width="1.2"/>
<path d="M504.7 53.5L507.6 58.9L510.5 53.5Z" fill="#fff" stroke="#9400d3" stroke-width="1.2"/>
<path d="M519 45.4L521.9 50.8L524.8 45.4Z" fill="#fff" stroke="#9400d3" stroke-width="1.2"/>
<path d="M320.4 239 331.6 231 342.6 222.4 353 215 363.6 207.5 374 204 384.5 203.5 395 203.5 405.5 205 418 211 432 218 440.5 222 449 227.4 459 234 470 241 482 248 494 254.5 507.5 260 521.5 269" fill="none" stroke="#0000ff" stroke-width="1.5" stroke-linejoin="round"/>
<rect x="317.5" y="236.1" width="5.8" height="5.8" fill="#0000ff"/>
<rect x="328.7" y="228.1" width="5.8" height="5.8" fill="#0000ff"/>
<rect x="339.7" y="219.5" width="5.8" height="5.8" fill="#0000ff"/>
<rect x="350.1" y="212.1" width="5.8" height="5.8" fill="#0000ff"/>
<rect x="360.7" y="204.6" width="5.8" height="5.8" fill="#0000ff"/>
<rect x="371.1" y="201.1" width="5.8" height="5.8" fill="#0000ff"/>
<rect x="381.6" y="200.6" width="5.8" height="5.8" fill="#0000ff"/>
<rect x="392.1" y="200.6" width="5.8" height="5.8" fill="#0000ff"/>
<rect x="402.6" y="202.1" width="5.8" height="5.8" fill="#0000ff"/>
<rect x="415.1" y="208.1" width="5.8" height="5.8" fill="#0000ff"/>
<rect x="429.1" y="215.1" width="5.8" height="5.8" fill="#0000ff"/>
<rect x="437.6" y="219.1" width="5.8" height="5.8" fill="#0000ff"/>
<rect x="446.1" y="224.5" width="5.8" height="5.8" fill="#0000ff"/>
<rect x="456.1" y="231.1" width="5.8" height="5.8" fill="#0000ff"/>
<rect x="467.1" y="238.1" width="5.8" height="5.8" fill="#0000ff"/>
<rect x="479.1" y="245.1" width="5.8" height="5.8" fill="#0000ff"/>
<rect x="491.1" y="251.6" width="5.8" height="5.8" fill="#0000ff"/>
<rect x="504.6" y="257.1" width="5.8" height="5.8" fill="#0000ff"/>
<rect x="518.6" y="266.1" width="5.8" height="5.8" fill="#0000ff"/>
<path d="M320.4 237 331.6 228 342.6 219.6 353 211 363.6 205 374 202 384.5 202.5 395 204.5 405.5 207.5 418 216 432 224.4 440.5 229.6 449 234 459 240 470 247 482 253.6 494 259 507.5 264.4 521.5 273" fill="none" stroke="#ff0000" stroke-width="1.5" stroke-linejoin="round"/>
<path d="M317.3 239.7L320.4 234.3L323.5 239.7Z" fill="#ff0000" stroke="#ff0000" stroke-width="1.2" stroke-linejoin="miter"/>
<path d="M328.5 230.7L331.6 225.3L334.7 230.7Z" fill="#ff0000" stroke="#ff0000" stroke-width="1.2" stroke-linejoin="miter"/>
<path d="M339.5 222.3L342.6 216.9L345.7 222.3Z" fill="#ff0000" stroke="#ff0000" stroke-width="1.2" stroke-linejoin="miter"/>
<path d="M349.9 213.7L353 208.3L356.1 213.7Z" fill="#ff0000" stroke="#ff0000" stroke-width="1.2" stroke-linejoin="miter"/>
<path d="M360.5 207.7L363.6 202.3L366.7 207.7Z" fill="#ff0000" stroke="#ff0000" stroke-width="1.2" stroke-linejoin="miter"/>
<path d="M370.9 204.7L374 199.3L377.1 204.7Z" fill="#ff0000" stroke="#ff0000" stroke-width="1.2" stroke-linejoin="miter"/>
<path d="M381.4 205.2L384.5 199.8L387.6 205.2Z" fill="#ff0000" stroke="#ff0000" stroke-width="1.2" stroke-linejoin="miter"/>
<path d="M391.9 207.2L395 201.8L398.1 207.2Z" fill="#ff0000" stroke="#ff0000" stroke-width="1.2" stroke-linejoin="miter"/>
<path d="M402.4 210.2L405.5 204.8L408.6 210.2Z" fill="#ff0000" stroke="#ff0000" stroke-width="1.2" stroke-linejoin="miter"/>
<path d="M414.9 218.7L418 213.3L421.1 218.7Z" fill="#ff0000" stroke="#ff0000" stroke-width="1.2" stroke-linejoin="miter"/>
<path d="M428.9 227.1L432 221.7L435.1 227.1Z" fill="#ff0000" stroke="#ff0000" stroke-width="1.2" stroke-linejoin="miter"/>
<path d="M437.4 232.3L440.5 226.9L443.6 232.3Z" fill="#ff0000" stroke="#ff0000" stroke-width="1.2" stroke-linejoin="miter"/>
<path d="M445.9 236.7L449 231.3L452.1 236.7Z" fill="#ff0000" stroke="#ff0000" stroke-width="1.2" stroke-linejoin="miter"/>
<path d="M455.9 242.7L459 237.3L462.1 242.7Z" fill="#ff0000" stroke="#ff0000" stroke-width="1.2" stroke-linejoin="miter"/>
<path d="M466.9 249.7L470 244.3L473.1 249.7Z" fill="#ff0000" stroke="#ff0000" stroke-width="1.2" stroke-linejoin="miter"/>
<path d="M478.9 256.3L482 250.9L485.1 256.3Z" fill="#ff0000" stroke="#ff0000" stroke-width="1.2" stroke-linejoin="miter"/>
<path d="M490.9 261.7L494 256.3L497.1 261.7Z" fill="#ff0000" stroke="#ff0000" stroke-width="1.2" stroke-linejoin="miter"/>
<path d="M504.4 267.1L507.5 261.7L510.6 267.1Z" fill="#ff0000" stroke="#ff0000" stroke-width="1.2" stroke-linejoin="miter"/>
<path d="M518.4 275.7L521.5 270.3L524.6 275.7Z" fill="#ff0000" stroke="#ff0000" stroke-width="1.2" stroke-linejoin="miter"/>
<path d="M320.4 254 331.6 242 342.6 231 353 221 363.6 213 374 206.4 384.5 202 395 204 405.5 210 418 223.5 432 244 440.5 257.8 449 269.7 459 281.6 470 293.8 482 308.2 494 320 507.5 328.4 521.5 334.5" fill="none" stroke="#ffa500" stroke-width="1.5" stroke-linejoin="round"/>
<path d="M317.95 250.4L324.25 254L317.95 257.6Z" fill="#ffa500" stroke="#ffa500" stroke-width="0.6"/>
<path d="M329.15 238.4L335.45 242L329.15 245.6Z" fill="#ffa500" stroke="#ffa500" stroke-width="0.6"/>
<path d="M340.15 227.4L346.45 231L340.15 234.6Z" fill="#ffa500" stroke="#ffa500" stroke-width="0.6"/>
<path d="M350.55 217.4L356.85 221L350.55 224.6Z" fill="#ffa500" stroke="#ffa500" stroke-width="0.6"/>
<path d="M361.15 209.4L367.45 213L361.15 216.6Z" fill="#ffa500" stroke="#ffa500" stroke-width="0.6"/>
<path d="M371.55 202.8L377.85 206.4L371.55 210Z" fill="#ffa500" stroke="#ffa500" stroke-width="0.6"/>
<path d="M382.05 198.4L388.35 202L382.05 205.6Z" fill="#ffa500" stroke="#ffa500" stroke-width="0.6"/>
<path d="M392.55 200.4L398.85 204L392.55 207.6Z" fill="#ffa500" stroke="#ffa500" stroke-width="0.6"/>
<path d="M403.05 206.4L409.35 210L403.05 213.6Z" fill="#ffa500" stroke="#ffa500" stroke-width="0.6"/>
<path d="M415.55 219.9L421.85 223.5L415.55 227.1Z" fill="#ffa500" stroke="#ffa500" stroke-width="0.6"/>
<path d="M429.55 240.4L435.85 244L429.55 247.6Z" fill="#ffa500" stroke="#ffa500" stroke-width="0.6"/>
<path d="M438.05 254.2L444.35 257.8L438.05 261.4Z" fill="#ffa500" stroke="#ffa500" stroke-width="0.6"/>
<path d="M446.55 266.1L452.85 269.7L446.55 273.3Z" fill="#ffa500" stroke="#ffa500" stroke-width="0.6"/>
<path d="M456.55 278L462.85 281.6L456.55 285.2Z" fill="#ffa500" stroke="#ffa500" stroke-width="0.6"/>
<path d="M467.55 290.2L473.85 293.8L467.55 297.4Z" fill="#ffa500" stroke="#ffa500" stroke-width="0.6"/>
<path d="M479.55 304.6L485.85 308.2L479.55 311.8Z" fill="#ffa500" stroke="#ffa500" stroke-width="0.6"/>
<path d="M491.55 316.4L497.85 320L491.55 323.6Z" fill="#ffa500" stroke="#ffa500" stroke-width="0.6"/>
<path d="M505.05 324.8L511.35 328.4L505.05 332Z" fill="#ffa500" stroke="#ffa500" stroke-width="0.6"/>
<path d="M519.05 330.9L525.35 334.5L519.05 338.1Z" fill="#ffa500" stroke="#ffa500" stroke-width="0.6"/>
</g>
<rect x="326" y="25.5" width="112.5" height="94.8" fill="#fff" stroke="#333" stroke-width="1.3"/>
<path d="M334.2 34.9H344.6" stroke="#000000" stroke-width="1.5"/>
<circle cx="334.2" cy="34.9" r="3.0" fill="#fff" stroke="#000" stroke-width="1.2"/>
<circle cx="344.6" cy="34.9" r="3.0" fill="#fff" stroke="#000" stroke-width="1.2"/>
<text transform="translate(354.5 38.8) scale(0.97 1)" font-family="'Liberation Serif', 'Times New Roman', serif" font-size="12.9">n=1 harmonic</text>
<path d="M334.2 47.5H344.6" stroke="#00ff00" stroke-width="1.5"/>
<path d="M331.5 50.05L334.2 44.95L336.9 50.05Z" fill="#fff" stroke="#00ff00" stroke-width="1.2" stroke-linejoin="miter"/>
<path d="M341.9 50.05L344.6 44.95L347.3 50.05Z" fill="#fff" stroke="#00ff00" stroke-width="1.2" stroke-linejoin="miter"/>
<text transform="translate(354.5 52.5) scale(0.97 1)" font-family="'Liberation Serif', 'Times New Roman', serif" font-size="12.9">n=2 harmonic</text>
<path d="M334.2 63.2H344.6" stroke="#9400d3" stroke-width="1.5"/>
<path d="M331.5 60.65L334.2 65.75L336.9 60.65Z" fill="#fff" stroke="#9400d3" stroke-width="1.2"/>
<path d="M341.9 60.65L344.6 65.75L347.3 60.65Z" fill="#fff" stroke="#9400d3" stroke-width="1.2"/>
<text transform="translate(354.5 66.5) scale(0.97 1)" font-family="'Liberation Serif', 'Times New Roman', serif" font-size="12.9">n=3 harmonic</text>
<path d="M334.2 77.8H344.6" stroke="#0000ff" stroke-width="1.5"/>
<rect x="331.3" y="74.9" width="5.8" height="5.8" fill="#0000ff"/>
<rect x="341.7" y="74.9" width="5.8" height="5.8" fill="#0000ff"/>
<text transform="translate(354.5 80.5) scale(0.97 1)" font-family="'Liberation Serif', 'Times New Roman', serif" font-size="12.9">n=1 repulsive h.</text>
<path d="M334.2 93.1H344.6" stroke="#ff0000" stroke-width="1.5"/>
<path d="M330.8 96.1L334.2 90.1L337.6 96.1Z" fill="#ff0000" stroke="#ff0000" stroke-width="1.2" stroke-linejoin="miter"/>
<path d="M341.2 96.1L344.6 90.1L348 96.1Z" fill="#ff0000" stroke="#ff0000" stroke-width="1.2" stroke-linejoin="miter"/>
<text transform="translate(354.5 96.7) scale(0.97 1)" font-family="'Liberation Serif', 'Times New Roman', serif" font-size="12.9">n=2 repulsive h.</text>
<path d="M334.2 110.4H344.6" stroke="#ffa500" stroke-width="1.5"/>
<path d="M331.8 106.7L338 110.4L331.8 114.1Z" fill="#ffa500" stroke="#ffa500" stroke-width="0.6"/>
<path d="M342.2 106.7L348.4 110.4L342.2 114.1Z" fill="#ffa500" stroke="#ffa500" stroke-width="0.6"/>
<text transform="translate(354.5 113) scale(0.97 1)" font-family="'Liberation Serif', 'Times New Roman', serif" font-size="12.9">n=3 repulsive h.</text>
</svg>
</body></html>
